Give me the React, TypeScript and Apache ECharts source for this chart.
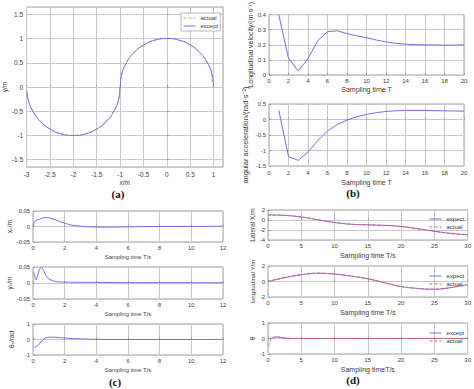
import React, { useEffect, useRef } from 'react';
import * as echarts from 'echarts';

const FONT = '"Liberation Sans", Arial, Helvetica, sans-serif';
const SERIF = '"Liberation Serif", "Times New Roman", serif';
const BLUE = '#7070e4';
const RED = '#e2606c';
const ORANGE = '#e8956f';
const GRID_LINE = '#c8c8c8';
const BOX = '#8a8a8a';
const LABEL = '#3a3a3a';

// ---------- (a) trajectory ----------
const aExpX = [1, 0.966, 0.866, 0.707, 0.5, 0.259, 0, -0.259, -0.5, -0.707, -0.866, -0.966, -1, -1.034, -1.134, -1.293, -1.5, -1.741, -2, -2.259, -2.5, -2.707, -2.866, -2.966, -2.995];
const aExpY = [0, 0.259, 0.5, 0.707, 0.866, 0.966, 1, 0.966, 0.866, 0.707, 0.5, 0.259, 0, -0.259, -0.5, -0.707, -0.866, -0.966, -1, -0.966, -0.866, -0.707, -0.5, -0.259, -0.08];
const aActX = [1, 0.985, 0.958, 0.962, 0.866, 0.707, 0.5, 0.259, 0, -0.259, -0.5, -0.707, -0.866, -0.966, -1, -1.034, -1.134, -1.293, -1.5, -1.741, -2, -2.259, -2.5, -2.707, -2.866, -2.966, -2.995];
const aActY = [0, 0.07, 0.16, 0.25, 0.5, 0.707, 0.866, 0.966, 1, 0.966, 0.866, 0.707, 0.5, 0.259, 0, -0.259, -0.5, -0.707, -0.866, -0.966, -1, -0.966, -0.866, -0.707, -0.5, -0.259, -0.08];

// ---------- (b) ----------
const bTime = [1, 2, 3, 4, 5, 6, 7, 8, 9, 10, 11, 12, 13, 14, 15, 16, 17, 18, 19, 20];
const bVelocity = [0.4, 0.111, 0.026, 0.109, 0.227, 0.287, 0.293, 0.274, 0.26, 0.247, 0.232, 0.219, 0.21, 0.204, 0.201, 0.2, 0.199, 0.198, 0.198, 0.2];
const bAngAcc = [0.3, -1.19, -1.32, -1.05, -0.68, -0.37, -0.16, -0.02, 0.09, 0.16, 0.22, 0.26, 0.28, 0.29, 0.29, 0.29, 0.285, 0.28, 0.275, 0.27];

// ---------- (c) ----------
const cXeTime = [0, 0.05, 0.15, 0.25, 0.4, 0.6, 0.8, 1.0, 1.2, 1.5, 1.8, 2.1, 2.5, 3, 3.5, 4, 5, 6, 8, 10, 12];
const cXe = [0, 0.008, 0.018, 0.021, 0.023, 0.027, 0.029, 0.028, 0.025, 0.02, 0.014, 0.009, 0.004, 0.001, -0.001, -0.002, -0.002, -0.001, 0, 0, 0.001];
const cYeTime = [0.05, 0.2, 0.3, 0.4, 0.5, 0.6, 0.7, 0.85, 1.0, 1.25, 1.5, 2, 3, 4, 6, 8, 10, 12];
const cYe = [0.033, 0.01, 0.025, 0.042, 0.048, 0.045, 0.036, 0.021, 0.013, 0.007, 0.004, 0.003, 0.002, 0.002, 0.001, 0.001, 0.001, 0.001];
const cThTime = [0.08, 0.2, 0.32, 0.45, 0.55, 0.7, 0.85, 1.0, 1.3, 1.6, 2, 2.5, 3, 4, 6, 8, 10, 12];
const cTh = [-0.51, -0.47, -0.38, -0.22, -0.1, 0.05, 0.12, 0.14, 0.15, 0.13, 0.1, 0.06, 0.04, 0.01, 0, 0, 0, 0];

// ---------- (d) ----------
const dTime = [0, 2.5, 5, 7.5, 10, 12.5, 15, 17.5, 20, 22.5, 25, 27.5, 30];
const dLatExp = [1.0, 0.92, 0.6, 0.05, -0.5, -0.85, -0.97, -1.08, -1.3, -1.75, -2.25, -2.7, -2.95];
const dLatAct = [1.02, 0.93, 0.6, 0.05, -0.5, -0.85, -0.97, -1.08, -1.3, -1.75, -2.25, -2.7, -2.95];
const dLonExp = [0, 0.5, 0.87, 1.07, 0.96, 0.7, 0.35, -0.15, -0.65, -0.9, -1.0, -0.78, -0.4];
const dLonAct = [0, 0.5, 0.87, 1.07, 0.96, 0.7, 0.35, -0.15, -0.65, -0.9, -1.0, -0.78, -0.4];
const dThTime = [0, 0.2, 0.4, 0.6, 0.8, 1.0, 1.3, 1.6, 2.0, 2.5, 3, 4, 6, 10, 20, 30];
const dThExp = [0, 0, 0.01, 0.03, 0.06, 0.08, 0.1, 0.09, 0.06, 0.03, 0.01, 0, 0, 0, 0, 0];
const dThAct = [-0.5, -0.35, -0.08, 0.03, 0.07, 0.09, 0.11, 0.1, 0.07, 0.03, 0.01, 0, 0, 0, 0, 0];

const zip = (xs: number[], ys: number[]) => xs.map((x, i) => [x, ys[i]]);

type AxO = {
  nameGap: number;
  nameSize: number;
  labelSize: number;
  margin: number;
  showMin?: boolean;
  showMax?: boolean;
  min: number;
  max: number;
  interval?: number;
  minInterval?: number;
  maxInterval?: number;
  splitNumber?: number;
};

function axis(gridIndex: number, name: string, o: AxO) {
  const a: any = {
    type: 'value',
    gridIndex,
    min: o.min,
    max: o.max,
    name,
    nameLocation: 'middle',
    nameGap: o.nameGap,
    nameTextStyle: { fontSize: o.nameSize, fontFamily: FONT, color: LABEL },
    axisLine: { show: false },
    axisTick: { show: true, inside: true, length: 2, lineStyle: { color: BOX, width: 0.8 } },
    axisLabel: {
      fontSize: o.labelSize,
      fontFamily: FONT,
      color: LABEL,
      margin: o.margin,
      showMinLabel: o.showMin ?? true,
      showMaxLabel: o.showMax ?? true,
    },
    splitLine: { show: true, lineStyle: { color: GRID_LINE, width: 1, type: 'solid' } },
  };
  if (o.interval !== undefined) a.interval = o.interval;
  if (o.minInterval !== undefined) a.minInterval = o.minInterval;
  if (o.maxInterval !== undefined) a.maxInterval = o.maxInterval;
  if (o.splitNumber !== undefined) a.splitNumber = o.splitNumber;
  return a;
}

function line(name: string, idx: number, data: number[][], color: string, dashed: boolean, smooth: number | boolean = false) {
  return {
    type: 'line',
    name,
    xAxisIndex: idx,
    yAxisIndex: idx,
    data,
    color,
    showSymbol: false,
    symbol: 'none',
    smooth,
    clip: true,
    lineStyle: { color, width: 1, type: dashed ? [3, 2] : 'solid' },
  };
}

const gridBase = { show: true, borderColor: BOX, borderWidth: 0.8, containLabel: false, backgroundColor: 'transparent' };

const legendBase = {
  orient: 'vertical',
  selectedMode: false,
  itemWidth: 12,
  itemHeight: 6,
  itemGap: 2,
  padding: 0,
  itemStyle: { opacity: 0 },
  lineStyle: { width: 1 },
  textStyle: { fontSize: 6, fontFamily: FONT, color: LABEL },
  formatter: (n: string) => n.split('_')[1],
};

function buildOption(): any {
  const xA = axis(0, 'x/m', { min: -3, max: 1.2, interval: 0.5, nameGap: 11, nameSize: 6.5, labelSize: 6.5, margin: 4, showMax: false });
  const yA = axis(0, 'y/m', { min: -1.65, max: 1.65, minInterval: 0.5, maxInterval: 0.5, splitNumber: 7, nameGap: 14, nameSize: 6.5, labelSize: 6.5, margin: 3.5, showMin: false, showMax: false });

  const xB1 = axis(1, 'Sampling time T', { min: 0, max: 20, interval: 2, nameGap: 11, nameSize: 7, labelSize: 6, margin: 3 });
  const yB1 = axis(1, 'Longitudinal velocity/(m·s⁻¹)', { min: 0, max: 0.4, interval: 0.1, nameGap: 13.5, nameSize: 7, labelSize: 6, margin: 3 });
  const xB2 = axis(2, 'Sampling time T', { min: 0, max: 20, interval: 2, nameGap: 12.5, nameSize: 7, labelSize: 6, margin: 4 });
  const yB2 = axis(2, 'angular acceleration/(rad·s⁻²)', { min: -1.5, max: 0.5, interval: 0.5, nameGap: 19.5, nameSize: 7.5, labelSize: 6, margin: 3 });

  const cX = (i: number) => axis(i, 'Sampling time T/s', { min: 0, max: 12, interval: 2, nameGap: 11.5, nameSize: 5.8, labelSize: 5.8, margin: 3 });
  const yC1 = axis(3, 'xₑ/m', { min: -0.05, max: 0.05, interval: 0.05, nameGap: 18, nameSize: 6.5, labelSize: 5.8, margin: 3 });
  const yC2 = axis(4, 'yₑ/m', { min: -0.05, max: 0.05, interval: 0.05, nameGap: 18, nameSize: 6.5, labelSize: 5.8, margin: 3 });
  const yC3 = axis(5, 'θₑ/rad', { min: -1, max: 1, interval: 1, nameGap: 18, nameSize: 6.5, labelSize: 5.8, margin: 3 });

  const dX = (i: number, n: string) => axis(i, n, { min: 0, max: 30, interval: 5, nameGap: 12, nameSize: 7, labelSize: 6, margin: 3 });
  const yD1 = axis(6, 'Lateral X/m', { min: -4, max: 2, interval: 2, nameGap: 10, nameSize: 6.5, labelSize: 6, margin: 3 });
  const yD2 = axis(7, 'longitudinal Y/m', { min: -2, max: 2, interval: 2, nameGap: 10, nameSize: 6.2, labelSize: 6, margin: 3 });
  const yD3 = axis(8, 'θ', { min: -1, max: 1, interval: 1, nameGap: 10, nameSize: 6.5, labelSize: 6, margin: 3 });

  return {
    animation: false,
    backgroundColor: '#ffffff',
    grid: [
      { ...gridBase, left: 22, top: 7, width: 201, height: 160 },
      { ...gridBase, left: 269, top: 12, width: 195, height: 63 },
      { ...gridBase, left: 269, top: 104, width: 195, height: 62 },
      { ...gridBase, left: 33, top: 211, width: 190, height: 31 },
      { ...gridBase, left: 33, top: 267, width: 190, height: 32 },
      { ...gridBase, left: 33, top: 324, width: 190, height: 31 },
      { ...gridBase, left: 268, top: 210, width: 202.5, height: 30 },
      { ...gridBase, left: 268, top: 266, width: 202.5, height: 31 },
      { ...gridBase, left: 268, top: 323, width: 202.5, height: 31 },
    ],
    xAxis: [xA, xB1, xB2, cX(3), cX(4), cX(5), dX(6, 'Sampling time T/s'), dX(7, 'Sampling time T/s'), dX(8, 'Sampling timeT/s')],
    yAxis: [yA, yB1, yB2, yC1, yC2, yC3, yD1, yD2, yD3],
    legend: [
      {
        ...legendBase,
        left: 181,
        top: 13,
        padding: [2, 2],
        borderColor: BOX,
        borderWidth: 0.6,
        backgroundColor: '#ffffff',
        data: ['a_actual', 'a_except'],
      },
      { ...legendBase, left: 429, top: 216, data: ['d1_expect', 'd1_actual'] },
      { ...legendBase, left: 429, top: 273, data: ['d2_expect', 'd2_actual'] },
      { ...legendBase, left: 429, top: 330, data: ['d3_except', 'd3_actual'] },
    ],
    series: [
      line('a_actual', 0, zip(aActX, aActY), ORANGE, true, 0.5),
      line('a_except', 0, zip(aExpX, aExpY), BLUE, false, 0.5),
      line('b_vel', 1, zip(bTime, bVelocity), BLUE, false),
      line('b_acc', 2, zip(bTime, bAngAcc), BLUE, false),
      line('c_xe', 3, zip(cXeTime, cXe), BLUE, false, 0.3),
      line('c_ye', 4, zip(cYeTime, cYe), BLUE, false, 0.3),
      line('c_th', 5, zip(cThTime, cTh), BLUE, false, 0.3),
      line('d1_expect', 6, zip(dTime, dLatExp), BLUE, false, 0.4),
      line('d1_actual', 6, zip(dTime, dLatAct), RED, true, 0.4),
      line('d2_expect', 7, zip(dTime, dLonExp), BLUE, false, 0.4),
      line('d2_actual', 7, zip(dTime, dLonAct), RED, true, 0.4),
      line('d3_except', 8, zip(dThTime, dThExp), BLUE, false, 0.3),
      line('d3_actual', 8, zip(dThTime, dThAct), RED, true, 0.3),
    ],
    graphic: [
      { type: 'text', x: 118, y: 194, style: { text: '(a)', fontSize: 11, fontWeight: 'bold', fontFamily: SERIF, fill: '#111', align: 'center', verticalAlign: 'middle' } },
      { type: 'text', x: 353, y: 193, style: { text: '(b)', fontSize: 11, fontWeight: 'bold', fontFamily: SERIF, fill: '#111', align: 'center', verticalAlign: 'middle' } },
      { type: 'text', x: 115, y: 382, style: { text: '(c)', fontSize: 11, fontWeight: 'bold', fontFamily: SERIF, fill: '#111', align: 'center', verticalAlign: 'middle' } },
      { type: 'text', x: 353, y: 380, style: { text: '(d)', fontSize: 11, fontWeight: 'bold', fontFamily: SERIF, fill: '#111', align: 'center', verticalAlign: 'middle' } },
    ],
  };
}

export default function App() {
  const ref = useRef<HTMLDivElement>(null);
  useEffect(() => {
    if (!ref.current) return;
    const chart = echarts.init(ref.current, undefined, { renderer: 'svg' });
    chart.setOption(buildOption());
    return () => chart.dispose();
  }, []);
  return (
    <div
      ref={ref}
      style={{ position: 'fixed', left: 0, top: 0, width: 474, height: 389, background: '#fff' }}
    />
  );
}
